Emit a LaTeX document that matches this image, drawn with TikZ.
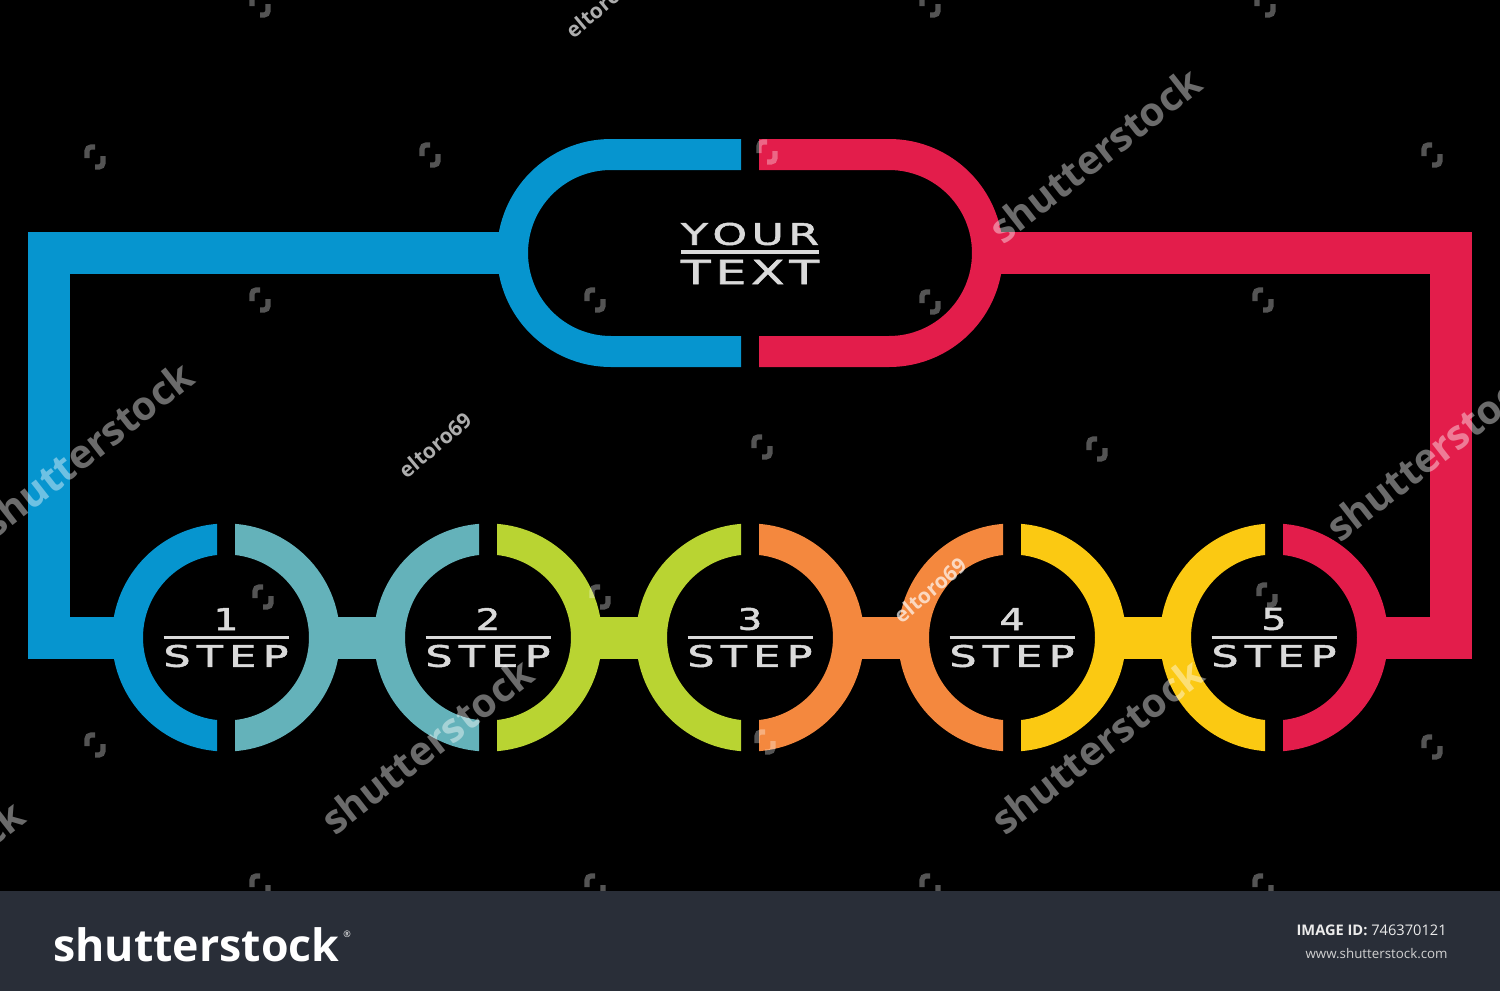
\documentclass[tikz,border=0pt]{standalone}
\usepackage{fontspec}
\setmainfont{DejaVu Sans}
\newfontfamily\lblfont[FakeBold=1.6]{DejaVu Sans}
\newfontfamily\wmfont{Open Sans}
\usetikzlibrary{calc}
\definecolor{cblue}{HTML}{0695CF}
\definecolor{cteal}{HTML}{64B2BA}
\definecolor{clime}{HTML}{B9D432}
\definecolor{corange}{HTML}{F4883E}
\definecolor{cyellow}{HTML}{FBC912}
\definecolor{cred}{HTML}{E31D4B}
\definecolor{clabel}{HTML}{DADADA}
\definecolor{cbar}{HTML}{292E38}
\newcommand\halfring[3]{%
  \begin{scope}
    \clip ($(#1.center)+(#2*9,-130)$) rectangle ($(#1.center)+(#2*130,130)$);
    \draw[ringline,#3] (#1.center) circle[radius=98.5];
  \end{scope}}
\begin{document}
\begin{tikzpicture}[x=0.5pt,y=0.5pt,
  bar/.style={line width=21pt},
  ringline/.style={line width=15.5pt},
  ringnode/.style={circle,minimum size=98.5pt,inner sep=0pt},
  lbl/.style={text=clabel,inner sep=0pt,font=\lblfont},
  rule/.style={draw=clabel,line width=1.6pt},
  wm/.style={text=white,text opacity=0.42,font=\wmfont\bfseries\fontsize{20pt}{20pt}\selectfont,rotate=38,inner sep=0pt},
  wmb/.style={text=white,text opacity=0.68,font=\wmfont\bfseries\fontsize{10.5pt}{10pt}\selectfont,rotate=40,inner sep=0pt},
  wmicon/.pic={\draw[white,draw opacity=0.33,line width=2.6pt,rounded corners=2pt] (-8,-1) -- (-8,10) -- (0,10) (8,1) -- (8,-10) -- (0,-10);}
]
\useasboundingbox (0,0) rectangle (1500,-991);
\clip (0,0) rectangle (1500,-991);
\fill[black] (0,0) rectangle (1500,-991);

% step ring nodes
\foreach \i/\x in {1/226,2/488,3/750,4/1012,5/1274}
  \node[ringnode] (s\i) at (\x,-637.5) {};

% hub anchors
\coordinate (hl) at (512.5,-253);
\coordinate (hr) at (987.5,-253);
\coordinate (ftl) at (49,-253);
\coordinate (fbl) at (49,-637.5);
\coordinate (ftr) at (1451,-253);
\coordinate (fbr) at (1451,-637.5);

% frame and connectors
\draw[bar,cblue] (hl) -- (ftl) -- (fbl) -- (s1.west);
\draw[bar,cred] (hr) -- (ftr) -- (fbr) -- (s5.east);
\draw[bar,cteal] (s1.east) -- (s2.west);
\draw[bar,clime] (s2.east) -- (s3.west);
\draw[bar,corange] (s3.east) -- (s4.west);
\draw[bar,cyellow] (s4.east) -- (s5.west);

% rings
\halfring{s1}{-1}{cblue}   \halfring{s1}{1}{cteal}
\halfring{s2}{-1}{cteal}   \halfring{s2}{1}{clime}
\halfring{s3}{-1}{clime}   \halfring{s3}{1}{corange}
\halfring{s4}{-1}{corange} \halfring{s4}{1}{cyellow}
\halfring{s5}{-1}{cyellow} \halfring{s5}{1}{cred}

% hub
\draw[ringline,cblue] (741,-154.5) -- (611,-154.5) arc[start angle=90,end angle=270,radius=98.5] -- (741,-351.5);
\draw[ringline,cred] (759,-154.5) -- (889,-154.5) arc[start angle=90,end angle=-90,radius=98.5] -- (759,-351.5);

% hub text
\node[lbl] (your) at (750,-234) {\resizebox{69pt}{11pt}{Y\hspace{0.1em}O\hspace{0.1em}U\hspace{0.1em}R}};
\draw[rule,line width=2pt] (681,-252) -- (819,-252);
\node[lbl] (text) at (750,-272) {\resizebox{69pt}{12pt}{T\hspace{0.1em}E\hspace{0.1em}X\hspace{0.1em}T}};

% step labels
\foreach \i in {1,...,5}{
  \node[lbl] (n\i) at ($(s\i.center)+(0,18.5)$) {\resizebox{!}{11pt}{\scalebox{1.3}[1]{\i}}};
  \draw[rule] ($(s\i.center)+(-62.5,0)$) -- ($(s\i.center)+(62.5,0)$);
  \node[lbl] (t\i) at ($(s\i.center)+(0,-18.5)$) {\resizebox{62.5pt}{11pt}{S\hspace{0.15em}T\hspace{0.15em}E\hspace{0.15em}P}};
}

% watermarks
\foreach \x/\y [count=\k] in {1095/155,87/449,1432/453,427/746,1097/746,-82/888}
  \node[wm] (wm\k) at (\x,-\y) {shutterstock};
\foreach \x/\y [count=\k] in {435/445,930/590,602/5}
  \node[wmb] (el\k) at (\x,-\y) {eltoro69};
\foreach \x/\y in {95/157,430/155,767/152,1432/155,260/300,595/300,930/302,1263/300,
                   762/447,1097/449,263/597,600/597,1267/595,95/745,765/742,1432/747,
                   260/5,930/5,1265/5,260/886,595/886,930/886,1263/886}
  \pic at (\x,-\y) {wmicon};

% bottom bar
\fill[cbar] (0,-891) rectangle (1500,-991);
\node[anchor=south west,inner sep=0pt,text=white] (logo) at (53,-962) {\resizebox{143pt}{!}{\wmfont\bfseries shutterstock}};
\node[anchor=north west,inner sep=0pt,text=white,font=\wmfont\fontsize{4.5pt}{5pt}\selectfont] (reg) at ($(logo.north east)+(3,-4)$) {®};
\node[anchor=base east,inner sep=0pt,text=white!92!black] (imgid) at (1447,-935) {\resizebox{75pt}{!}{\wmfont\textbf{IMAGE ID:} 746370121}};
\node[anchor=base east,inner sep=0pt,text=white!82!black] (site) at (1448,-958) {\resizebox{71pt}{!}{\wmfont www.shutterstock.com}};
\end{tikzpicture}
\end{document}
